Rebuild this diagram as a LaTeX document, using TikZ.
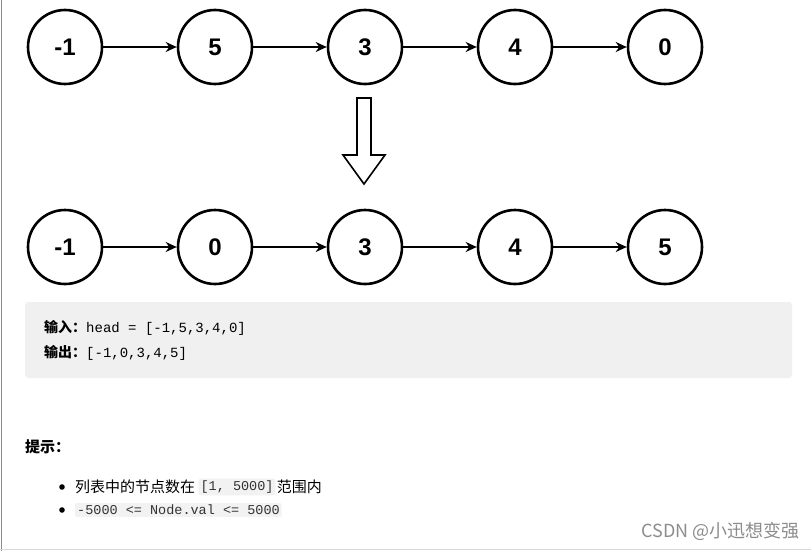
\documentclass[tikz,border=0pt]{standalone}
\usepackage{fontspec}
\setmainfont{Liberation Sans}
\setmonofont{Liberation Mono}
\newfontfamily\cjk{Noto Sans CJK SC}
\usetikzlibrary{positioning,arrows.meta}
\tikzset{
    listnode/.style={circle, draw, line width=2.6pt, minimum size=74pt, inner sep=0pt, font=\fontsize{24}{24}\selectfont\bfseries},
    listarrow/.style={-{Stealth[length=11pt,width=10pt]}, line width=1.8pt},
    codebox/.style={fill=black!5, rounded corners=2pt, inner sep=2pt, font=\fontsize{13.5}{15}\selectfont\ttfamily, text=black!80}
}
\begin{document}
\begin{tikzpicture}[x=1pt, y=-1pt]
    \useasboundingbox (0,0) rectangle (811,551);
    \draw [black!45, line width=1pt] (1,0) -- (1,551);
    \draw [black!15, line width=1pt] (0,549.5) -- (811,549.5);

    % input list
    \foreach \v [count=\i] in {-1,5,3,4,0}
        \node [listnode] (a\i) at ({65+150*(\i-1)}, 47) {\v};
    \foreach \i [evaluate=\i as \j using int(\i+1)] in {1,...,4}
        \draw [listarrow] (a\i) -- (a\j);

    % hollow arrow
    \draw [line width=1.6pt, fill=white] (357,98) -- (371,98) -- (371,155) -- (385,155)
        -- (364,184) -- (343,155) -- (357,155) -- cycle;

    % output list
    \foreach \v [count=\i] in {-1,0,3,4,5}
        \node [listnode] (b\i) at ({65+150*(\i-1)}, 247) {\v};
    \foreach \i [evaluate=\i as \j using int(\i+1)] in {1,...,4}
        \draw [listarrow] (b\i) -- (b\j);

    % example box
    \fill [black!6, rounded corners=3pt] (25,302) rectangle (792,378);
    \node [anchor=west, inner sep=0pt, font=\fontsize{14}{16}\selectfont] (inp) at (44,328)
        {{\cjk\bfseries 输入：}\ttfamily head = [-1,5,3,4,0]};
    \node [anchor=west, inner sep=0pt, font=\fontsize{14}{16}\selectfont] (outp) at (44,353)
        {{\cjk\bfseries 输出：}\ttfamily [-1,0,3,4,5]};

    % hints
    \node [anchor=west, inner sep=0pt, font=\fontsize{15}{16}\selectfont\cjk\bfseries] (hint) at (25,447) {提示：};
    \fill (62,487) circle (2.8pt);
    \node [anchor=west, inner sep=0pt, font=\fontsize{15}{16}\selectfont\cjk] (h1) at (75,487) {列表中的节点数在};
    \node [codebox, right=3pt of h1] (c1) {[1, 5000]};
    \node [right=1pt of c1, inner sep=0pt, font=\fontsize{15}{16}\selectfont\cjk] (h1b) {范围内};
    \fill (62,510) circle (2.8pt);
    \node [codebox, anchor=west] (c2) at (75,510) {-5000 <= Node.val <= 5000};

    % watermark
    \node [anchor=east, inner sep=0pt, text=black!45, font=\fontsize{18}{20}\selectfont\cjk] (mark) at (800,531) {CSDN @小迅想变强};
\end{tikzpicture}
\end{document}
